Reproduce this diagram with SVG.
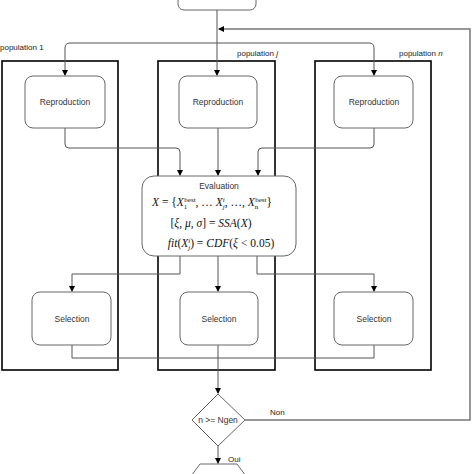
<svg xmlns="http://www.w3.org/2000/svg" width="474" height="474" viewBox="0 0 474 474">
<defs>
<marker id="arr" markerWidth="6" markerHeight="6" refX="5" refY="3" orient="auto" markerUnits="userSpaceOnUse">
<path d="M0,0 L6,3 L0,6 Z" fill="#000"/>
</marker>
<style>
.box{fill:#fff;stroke:#666;stroke-width:1}
.pop{fill:none;stroke:#000;stroke-width:1.6}
.c{fill:none;stroke:#555;stroke-width:1}
.lbl{font-family:"Liberation Sans",Arial,sans-serif;font-size:8.5px;fill:#333;text-anchor:middle}
.plbl{font-family:"Liberation Sans",Arial,sans-serif;font-size:8px;fill:#222}
.m{font-family:"Liberation Serif","Times New Roman",serif;font-size:11.5px;fill:#111;text-anchor:middle}
.sub{font-size:7px}
</style>
</defs>
<rect width="474" height="474" fill="#fff"/>

<g id="population-1">
<rect class="pop" x="2" y="61" width="116" height="309"/>
<text class="plbl" x="0" y="50">population 1</text>
</g>
<g id="population-j">
<rect class="pop" x="158" y="61" width="117" height="309"/>
<text class="plbl" x="237" y="56">population <tspan font-style="italic">j</tspan></text>
</g>
<g id="population-n">
<rect class="pop" x="315" y="61" width="116" height="309"/>
<text class="plbl" x="399" y="56">population <tspan font-style="italic">n</tspan></text>
</g>

<g id="end">
<path class="box" d="M191,476 L200,464 H237 L246,476"/>
</g>

<g id="connectors">
<path class="c" d="M217,10 V75" marker-end="url(#arr)"/>
<path class="c" d="M217,43 H70 Q65,43 65,48 V75" marker-end="url(#arr)"/>
<path class="c" d="M217,43 H369 Q374,43 374,48 V75" marker-end="url(#arr)"/>
<path class="c" d="M65,128 V144 Q65,148 69,148 H176 Q180,148 180,152 V175" marker-end="url(#arr)"/>
<path class="c" d="M218,128 V175" marker-end="url(#arr)"/>
<path class="c" d="M374,128 V144 Q374,148 370,148 H262 Q258,148 258,152 V175" marker-end="url(#arr)"/>
<path class="c" d="M180,256 V274 H72 V291" marker-end="url(#arr)"/>
<path class="c" d="M218,256 V291" marker-end="url(#arr)"/>
<path class="c" d="M257,256 V274 H374 V291" marker-end="url(#arr)"/>
<path class="c" d="M72,345 V358 H218"/>
<path class="c" d="M374,345 V358 H218"/>
<path class="c" d="M218,345 V393" marker-end="url(#arr)"/>
<path class="c" d="M218,445 V463" marker-end="url(#arr)"/>
<path fill="none" stroke="#777" stroke-width="1.5" d="M245,420 H470 V29 H219" marker-end="url(#arr)"/>
<text class="plbl" x="270" y="415">Non</text>
<text class="plbl" x="228" y="462" font-size="9">Oui</text>
</g>

<g id="start">
<rect class="box" x="178" y="-10" width="78" height="20" rx="6"/>
</g>

<g id="reproduction-1">
<rect class="box" x="25" y="76" width="80" height="52" rx="8"/>
<text class="lbl" x="65" y="105">Reproduction</text>
</g>
<g id="reproduction-j">
<rect class="box" x="179" y="76" width="78" height="52" rx="8"/>
<text class="lbl" x="218" y="105">Reproduction</text>
</g>
<g id="reproduction-n">
<rect class="box" x="334" y="76" width="79" height="52" rx="8"/>
<text class="lbl" x="374" y="105">Reproduction</text>
</g>

<g id="evaluation">
<rect class="box" x="142" y="176" width="154" height="80" rx="12"/>
<text class="lbl" x="219" y="189">Evaluation</text>
<text class="m" x="212" y="206"><tspan font-style="italic">X</tspan> = {<tspan font-style="italic">X</tspan><tspan class="sub" dy="3">1</tspan><tspan class="sub" dy="-7" dx="-3">best</tspan><tspan dy="4">, … </tspan><tspan font-style="italic">X</tspan><tspan class="sub" dy="3" font-style="italic">j</tspan><tspan class="sub" dy="-7" dx="-2" font-style="italic">i</tspan><tspan dy="4">, …, </tspan><tspan font-style="italic">X</tspan><tspan class="sub" dy="3">n</tspan><tspan class="sub" dy="-7" dx="-3">best</tspan><tspan dy="4">}</tspan></text>
<text class="m" x="211" y="227">[<tspan font-style="italic">ξ</tspan>, <tspan font-style="italic">μ</tspan>, <tspan font-style="italic">σ</tspan>] = <tspan font-style="italic">SSA</tspan>(<tspan font-style="italic">X</tspan>)</text>
<text class="m" x="221" y="247"><tspan font-style="italic">fit</tspan>(<tspan font-style="italic">X</tspan><tspan class="sub" dy="3" font-style="italic">j</tspan><tspan class="sub" dy="-7" dx="-2" font-style="italic">i</tspan><tspan dy="4">) = </tspan><tspan font-style="italic">CDF</tspan>(<tspan font-style="italic">ξ</tspan> &lt; 0.05)</text>
</g>

<g id="selection-1">
<rect class="box" x="32" y="292" width="79" height="53" rx="8"/>
<text class="lbl" x="72" y="322">Selection</text>
</g>
<g id="selection-j">
<rect class="box" x="180" y="292" width="78" height="53" rx="8"/>
<text class="lbl" x="219" y="322">Selection</text>
</g>
<g id="selection-n">
<rect class="box" x="334" y="292" width="79" height="53" rx="8"/>
<text class="lbl" x="374" y="322">Selection</text>
</g>

<g id="decision">
<path class="box" d="M218,394 L245,420 L218,446 L192,420 Z"/>
<text class="lbl" x="218" y="423" font-size="8">n &gt;= Ngen</text>
</g>
</svg>
